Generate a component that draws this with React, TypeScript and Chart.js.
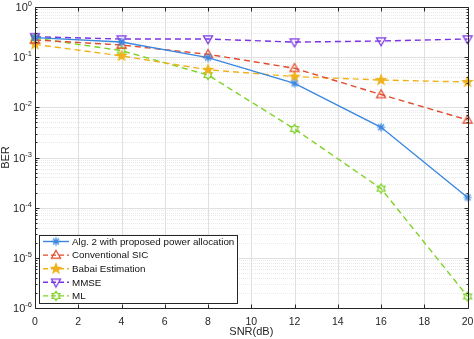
import React, { useEffect, useRef } from "react";
import { Chart, registerables } from "chart.js";

Chart.register(...registerables);

const snr = [0, 4, 8, 12, 16, 20];
const alg2 = [0.245, 0.2, 0.098, 0.03, 0.004, 0.00016];
const sic = [0.22, 0.175, 0.114, 0.06, 0.018, 0.0056];
const babai = [0.18, 0.106, 0.056, 0.041, 0.035, 0.032];
const mmse = [0.255, 0.23, 0.23, 0.2, 0.21, 0.23];
const ml = [0.24, 0.135, 0.044, 0.0037, 0.00024, 0.0000017];

const seriesNames = [
  "Alg. 2 with proposed power allocation",
  "Conventional SIC",
  "Babai Estimation",
  "MMSE",
  "ML",
];
const xTicks = [0, 2, 4, 6, 8, 10, 12, 14, 16, 18, 20];
const yExponents = [0, -1, -2, -3, -4, -5, -6];
const yMin = 1e-6;
const yMax = 1;

const FONT = "'Liberation Sans', Arial, 'DejaVu Sans', sans-serif";
const TEXT = "#262626";

const COLORS = ["#3a87e0", "#e24a2c", "#f0b21c", "#7b34e4", "#7fd22a"];
const MARKERS = ["asterisk", "triUp", "pentagram", "triDown", "hexagram"];
const SOLID = [true, false, false, false, false];

let legendMarkers: HTMLCanvasElement[] = [];

function makeMarker(kind: string, color: string): HTMLCanvasElement {
  const size = 14;
  const c = document.createElement("canvas");
  c.width = size;
  c.height = size;
  const ctx = c.getContext("2d")!;
  const cx = size / 2;
  const cy = size / 2;
  ctx.strokeStyle = color;
  ctx.fillStyle = color;
  ctx.lineWidth = 1.2;
  ctx.lineJoin = "miter";
  const star = (n: number, ro: number, ri: number, rot: number) => {
    ctx.beginPath();
    for (let i = 0; i < 2 * n; i++) {
      const r = i % 2 === 0 ? ro : ri;
      const a = rot + (i * Math.PI) / n;
      const x = cx + r * Math.cos(a);
      const y = cy + r * Math.sin(a);
      if (i === 0) ctx.moveTo(x, y);
      else ctx.lineTo(x, y);
    }
    ctx.closePath();
  };
  if (kind === "asterisk") {
    const r = 4.2;
    ctx.beginPath();
    for (let i = 0; i < 4; i++) {
      const a = (i * Math.PI) / 4;
      ctx.moveTo(cx - r * Math.cos(a), cy - r * Math.sin(a));
      ctx.lineTo(cx + r * Math.cos(a), cy + r * Math.sin(a));
    }
    ctx.stroke();
  } else if (kind === "triUp" || kind === "triDown") {
    const r = 4.8;
    const s = kind === "triUp" ? 1 : -1;
    ctx.beginPath();
    ctx.moveTo(cx, cy - s * r);
    ctx.lineTo(cx + r * 0.95, cy + s * r * 0.65);
    ctx.lineTo(cx - r * 0.95, cy + s * r * 0.65);
    ctx.closePath();
    ctx.stroke();
  } else if (kind === "pentagram") {
    star(5, 5, 2.1, -Math.PI / 2);
    ctx.fill();
    ctx.stroke();
  } else if (kind === "hexagram") {
    star(6, 4.6, 2.7, -Math.PI / 2);
    ctx.stroke();
  }
  return c;
}

const gridPlugin = {
  id: "matlabGrid",
  beforeDatasetsDraw(chart: any) {
    const { ctx, chartArea: a, scales } = chart;
    const xs = scales.x;
    const ys = scales.y;
    ctx.save();
    ctx.lineWidth = 1;
    ctx.strokeStyle = "#e9e9e9";
    ctx.setLineDash([1, 1]);
    for (let e = -6; e < 0; e++) {
      for (let m = 2; m <= 9; m++) {
        const y = Math.round(ys.getPixelForValue(m * Math.pow(10, e))) + 0.5;
        ctx.beginPath();
        ctx.moveTo(a.left, y);
        ctx.lineTo(a.right, y);
        ctx.stroke();
      }
    }
    ctx.setLineDash([]);
    ctx.strokeStyle = "#e0e0e0";
    for (let e = -5; e < 0; e++) {
      const y = Math.round(ys.getPixelForValue(Math.pow(10, e))) + 0.5;
      ctx.beginPath();
      ctx.moveTo(a.left, y);
      ctx.lineTo(a.right, y);
      ctx.stroke();
    }
    for (const t of xTicks) {
      if (t === xTicks[0] || t === xTicks[xTicks.length - 1]) continue;
      const x = Math.round(xs.getPixelForValue(t)) + 0.5;
      ctx.beginPath();
      ctx.moveTo(x, a.top);
      ctx.lineTo(x, a.bottom);
      ctx.stroke();
    }
    ctx.restore();
  },
  afterDatasetsDraw(chart: any) {
    const { ctx, chartArea: a, scales } = chart;
    const xs = scales.x;
    const ys = scales.y;
    ctx.save();
    ctx.strokeStyle = TEXT;
    ctx.lineWidth = 1;
    const L = Math.round(a.left) + 0.5;
    const R = Math.round(a.right) + 0.5;
    const T = Math.round(a.top) + 0.5;
    const B = Math.round(a.bottom) + 0.5;
    ctx.beginPath();
    ctx.rect(L, T, R - L, B - T);
    ctx.stroke();
    ctx.beginPath();
    for (const t of xTicks) {
      const x = Math.round(xs.getPixelForValue(t)) + 0.5;
      ctx.moveTo(x, B);
      ctx.lineTo(x, B - 4);
      ctx.moveTo(x, T);
      ctx.lineTo(x, T + 4);
    }
    for (let e = -6; e <= 0; e++) {
      for (let m = 1; m <= 9; m++) {
        const v = m * Math.pow(10, e);
        if (v > yMax * 1.0001) continue;
        const y = Math.round(ys.getPixelForValue(v)) + 0.5;
        const len = m === 1 ? 4 : 2;
        ctx.moveTo(L, y);
        ctx.lineTo(L + len, y);
        ctx.moveTo(R, y);
        ctx.lineTo(R - len, y);
      }
    }
    ctx.stroke();

    // y tick labels: 10 with superscript exponent
    ctx.fillStyle = TEXT;
    ctx.textBaseline = "middle";
    ctx.textAlign = "right";
    const rightX = a.left - 3;
    for (const e of yExponents) {
      const y = ys.getPixelForValue(Math.pow(10, e));
      ctx.font = `7.5px ${FONT}`;
      const expText = String(e);
      const ew = ctx.measureText(expText).width;
      ctx.fillText(expText, rightX, y - 3);
      ctx.font = `11px ${FONT}`;
      ctx.fillText("10", rightX - ew, y + 1);
    }
    ctx.restore();
  },
  afterDraw(chart: any) {
    const { ctx } = chart;
    const bx = 39.5;
    const by = 235.5;
    const bw = 198;
    const bh = 68;
    ctx.save();
    ctx.fillStyle = "#ffffff";
    ctx.fillRect(bx, by, bw, bh);
    ctx.strokeStyle = TEXT;
    ctx.lineWidth = 1;
    ctx.strokeRect(bx, by, bw, bh);
    ctx.font = `9.8px ${FONT}`;
    ctx.textBaseline = "middle";
    ctx.textAlign = "left";
    for (let i = 0; i < seriesNames.length; i++) {
      const y = 241.5 + i * 13.6;
      ctx.strokeStyle = COLORS[i];
      ctx.lineWidth = 1.4;
      ctx.setLineDash(SOLID[i] ? [] : [5, 3]);
      ctx.beginPath();
      ctx.moveTo(43, y);
      ctx.lineTo(69, y);
      ctx.stroke();
      ctx.setLineDash([]);
      const mk = legendMarkers[i];
      if (mk) ctx.drawImage(mk, 56 - mk.width / 2, y - mk.height / 2);
      ctx.fillStyle = "#111111";
      ctx.fillText(seriesNames[i], 72, y + 0.5);
    }
    ctx.restore();
  },
};

export default function App() {
  const ref = useRef<HTMLCanvasElement>(null);
  useEffect(() => {
    document.body.style.margin = "0";
    const canvas = ref.current!;
    const markers = MARKERS.map((k, i) => makeMarker(k, COLORS[i]));
    legendMarkers = markers;
    const allSeries = [alg2, sic, babai, mmse, ml];
    const chart = new Chart(canvas, {
      type: "line",
      data: {
        datasets: allSeries.map((vals, i) => ({
          label: seriesNames[i],
          data: snr.map((x, j) => ({ x, y: vals[j] })),
          borderColor: COLORS[i],
          backgroundColor: COLORS[i],
          borderWidth: 1.4,
          borderDash: SOLID[i] ? [] : [6, 4],
          pointStyle: markers[i],
          pointRadius: 5,
          tension: 0,
          clip: false,
        })),
      },
      options: {
        animation: false,
        responsive: false,
        events: [],
        layout: { padding: { top: 7, right: 6, left: 0, bottom: 0 } },
        plugins: { legend: { display: false }, tooltip: { enabled: false } },
        scales: {
          x: {
            type: "linear",
            min: 0,
            max: 20,
            grid: { display: false, drawTicks: false, tickLength: 0 },
            border: { display: false },
            ticks: {
              stepSize: 2,
              color: TEXT,
              font: { family: FONT, size: 10.5 },
              padding: 8,
              maxRotation: 0,
              autoSkip: false,
            },
            title: {
              display: true,
              text: "SNR(dB)",
              color: TEXT,
              font: { family: FONT, size: 11 },
              padding: { top: 0, bottom: 0 },
            },
            afterFit: (s: any) => {
              s.height = 31;
              s.paddingLeft = 0;
              s.paddingRight = 0;
            },
          },
          y: {
            type: "logarithmic",
            min: yMin,
            max: yMax,
            grid: { display: false, drawTicks: false, tickLength: 0 },
            border: { display: false },
            ticks: { display: false },
            title: {
              display: true,
              text: "BER",
              color: TEXT,
              font: { family: FONT, size: 11, lineHeight: 1 },
              padding: 0,
            },
            afterFit: (s: any) => {
              s.width = 35;
              s.paddingTop = 0;
              s.paddingBottom = 0;
            },
          },
        },
      },
      plugins: [gridPlugin],
    } as any);
    return () => chart.destroy();
  }, []);
  return (
    <div style={{ width: 474, height: 339, background: "#fff" }}>
      <canvas ref={ref} width={474} height={339} />
    </div>
  );
}
